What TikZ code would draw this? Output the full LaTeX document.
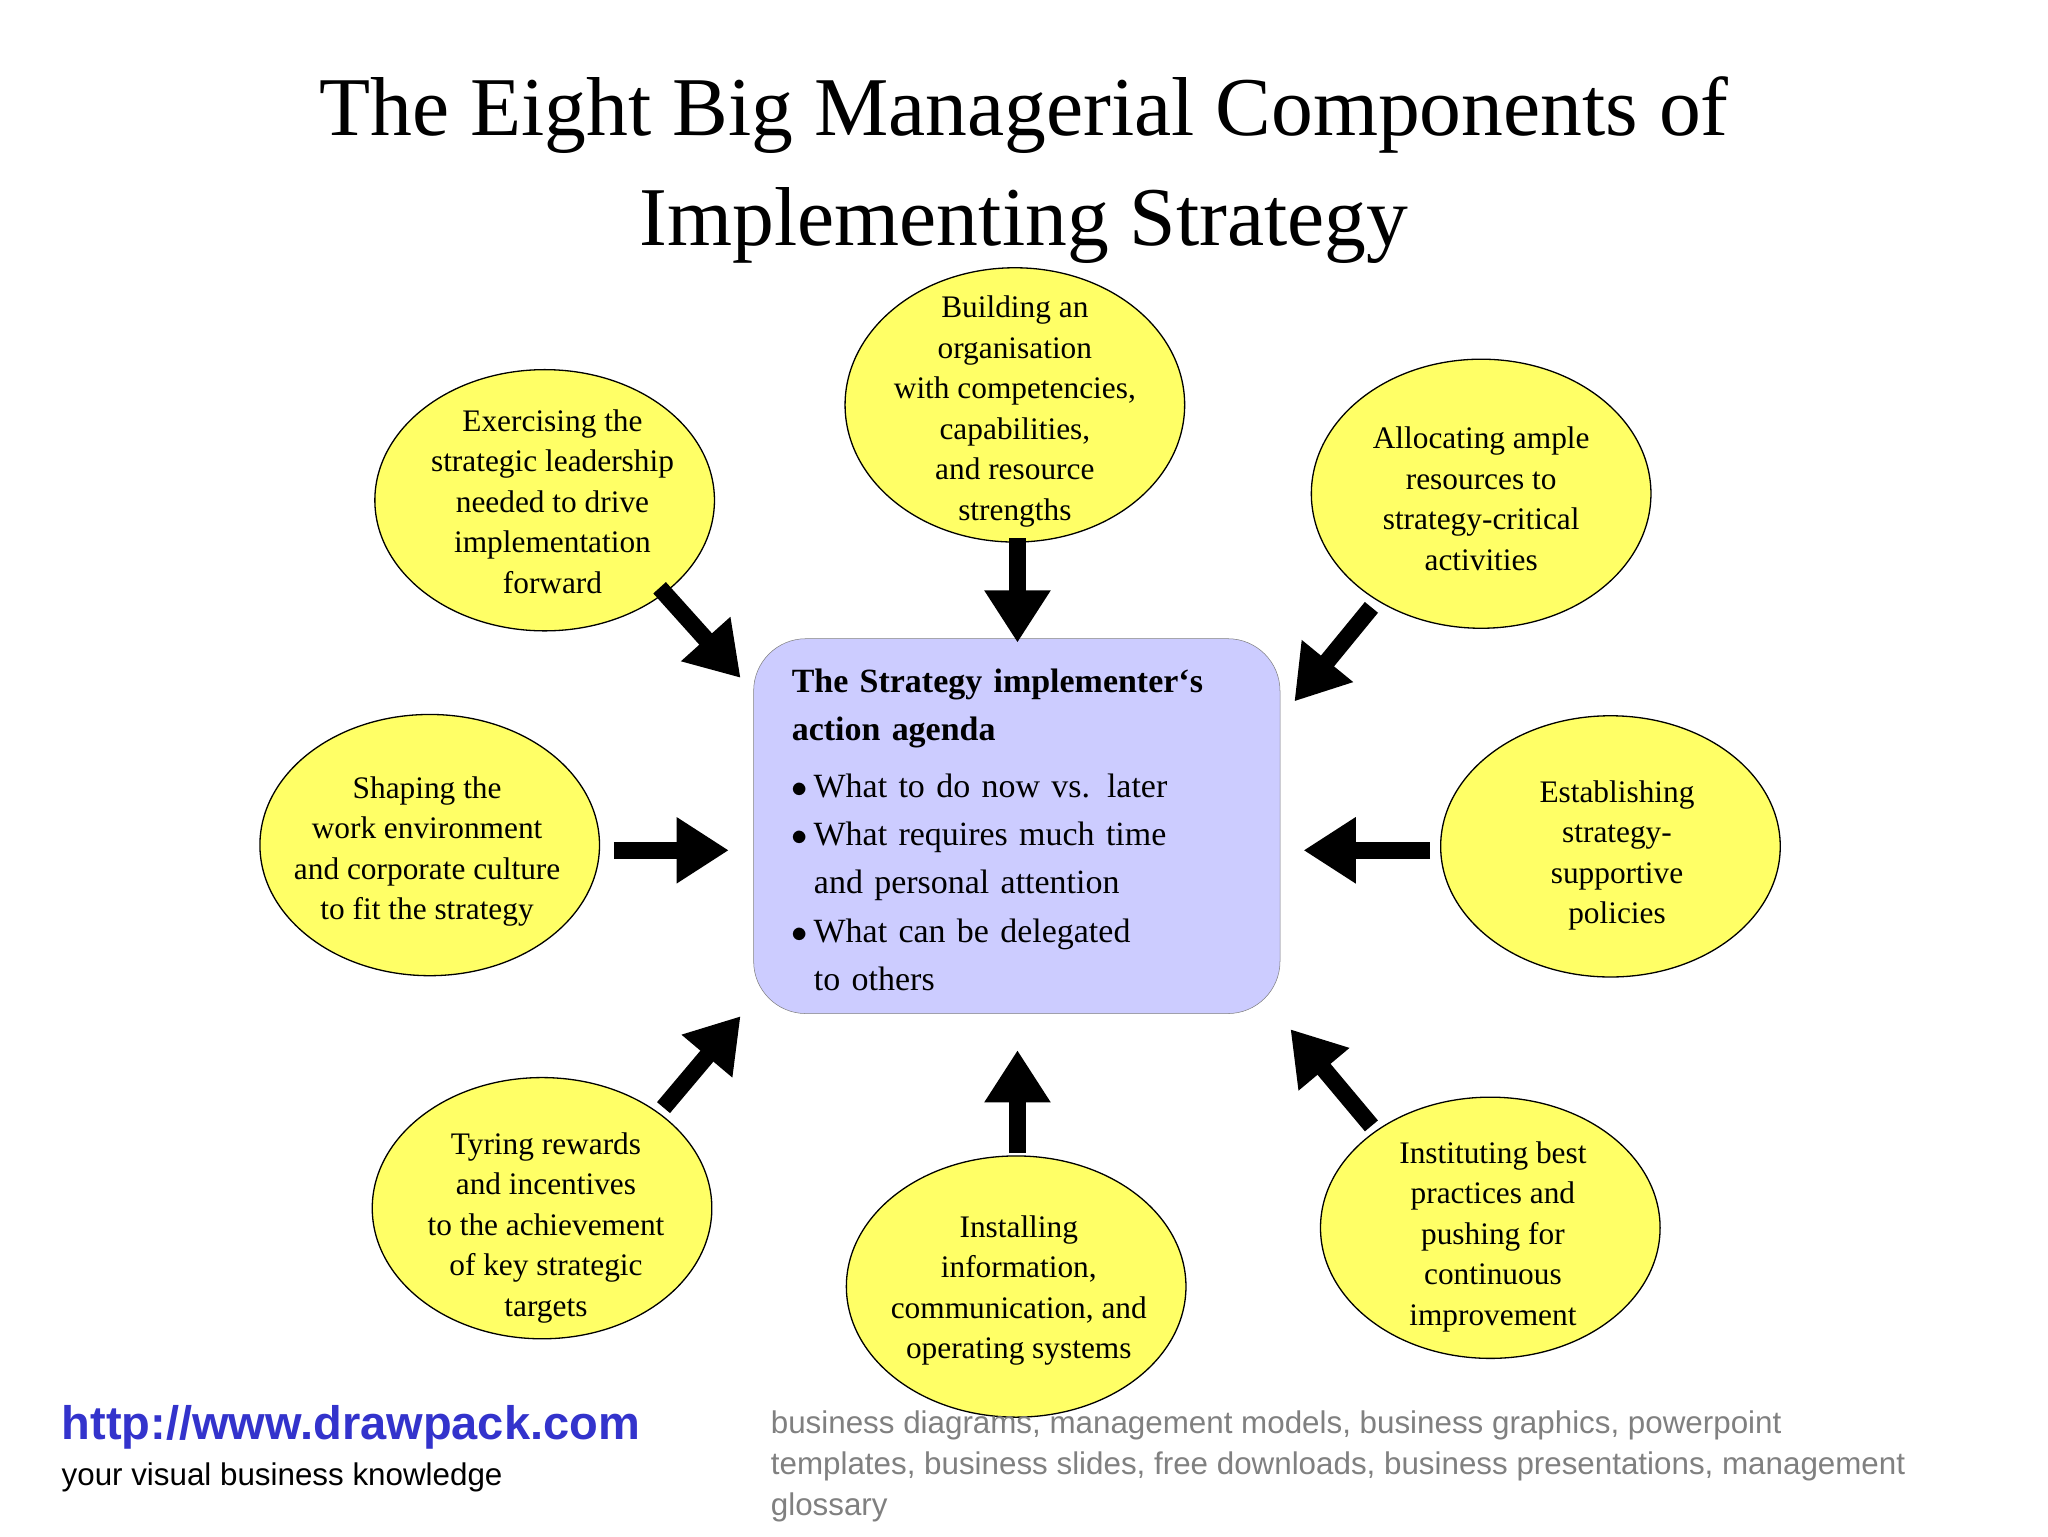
\documentclass[tikz,border=0pt]{standalone}
\usepackage{fontspec}
\setmainfont{Liberation Serif}
\newfontfamily\sansf{Liberation Sans}
\usetikzlibrary{arrows.meta}
\definecolor{ellfill}{RGB}{255,255,102}
\definecolor{boxfill}{RGB}{204,204,255}
\definecolor{linkblue}{RGB}{51,51,204}
\tikzset{
 ell/.style={draw=black,fill=ellfill,line width=1pt},
 elltext/.style={align=center,font=\fontsize{24}{31}\selectfont},
 bigarrow/.style={line width=13pt,-{Triangle[length=40pt,width=48pt]}},
}
\begin{document}
\begin{tikzpicture}[x=1pt,y=-1pt]
\useasboundingbox (0,0) rectangle (1568,1176);
\fill[white] (0,0) rectangle (1568,1176);
\node[font=\fontsize{64}{84}\selectfont,align=center] (title) at (784,130) {The Eight Big Managerial Components of\\Implementing Strategy};
\draw[fill=boxfill,draw=gray,rounded corners=40pt] (577,489) rectangle (980,776);
\node[anchor=north west,text width=380pt,align=left,inner sep=0pt,font=\fontsize{26}{37}\selectfont] (box) at (606,512) {\textbf{The Strategy implementer‘s\\action agenda}\\[6pt]
$\bullet$\,What to do now vs. later\\
$\bullet$\,What requires much time\\
\hspace*{17pt}and personal attention\\
$\bullet$\,What can be delegated\\
\hspace*{17pt}to others};
\path[ell] (777,310) ellipse (130 and 105);
\node[elltext] (e1) at (777,315) {Building an\\organisation\\with competencies,\\capabilities,\\and resource\\strengths};
\path[ell] (417,383) ellipse (130 and 100);
\node[elltext] (e2) at (423,384) {Exercising the\\strategic leadership\\needed to drive\\implementation\\forward};
\path[ell] (1134,378) ellipse (130 and 103);
\node[elltext] (e3) at (1134,382) {Allocating ample\\resources to\\strategy-critical\\activities};
\path[ell] (329,647) ellipse (130 and 100);
\node[elltext] (e4) at (327,652) {Shaping the\\work environment\\and corporate culture\\to fit the strategy};
\path[ell] (1233,648) ellipse (130 and 100);
\node[elltext] (e5) at (1238,655) {Establishing\\strategy-\\supportive\\policies};
\path[ell] (415,925) ellipse (130 and 100);
\node[elltext] (e6) at (418,940) {Tyring rewards\\and incentives\\to the achievement\\of key strategic\\targets};
\path[ell] (778,985) ellipse (130 and 100);
\node[elltext] (e7) at (780,988) {Installing\\information,\\communication, and\\operating systems};
\path[ell] (1141,940) ellipse (130 and 100);
\node[elltext] (e8) at (1143,947) {Instituting best\\practices and\\pushing for\\continuous\\improvement};
\coordinate (a1s) at (779,412); \coordinate (a1e) at (779,492);
\coordinate (a2s) at (505,450); \coordinate (a2e) at (567,519);
\coordinate (a3s) at (1050,465); \coordinate (a3e) at (991,537);
\coordinate (a4s) at (470,651); \coordinate (a4e) at (558,651);
\coordinate (a5s) at (1095,651); \coordinate (a5e) at (998,651);
\coordinate (a6s) at (508,848); \coordinate (a6e) at (567,778);
\coordinate (a7s) at (779,883); \coordinate (a7e) at (779,804);
\coordinate (a8s) at (1050,862); \coordinate (a8e) at (988,788);
\foreach \i in {1,...,8} \draw[bigarrow] (a\i s) -- (a\i e);
\node[anchor=west,inner sep=0pt,font=\sansf\bfseries\fontsize{36}{40}\selectfont,text=linkblue] (url) at (47,1093) {http://www.drawpack.com};
\node[anchor=west,inner sep=0pt,font=\sansf\fontsize{24}{28}\selectfont] (tag) at (47,1131) {your visual business knowledge};
\node[anchor=north west,inner sep=0pt,align=left,text=gray,font=\sansf\fontsize{24}{31.5}\selectfont] (kw) at (590,1080) {business diagrams, management models, business graphics, powerpoint\\templates, business slides, free downloads, business presentations, management\\glossary};
\end{tikzpicture}
\end{document}
